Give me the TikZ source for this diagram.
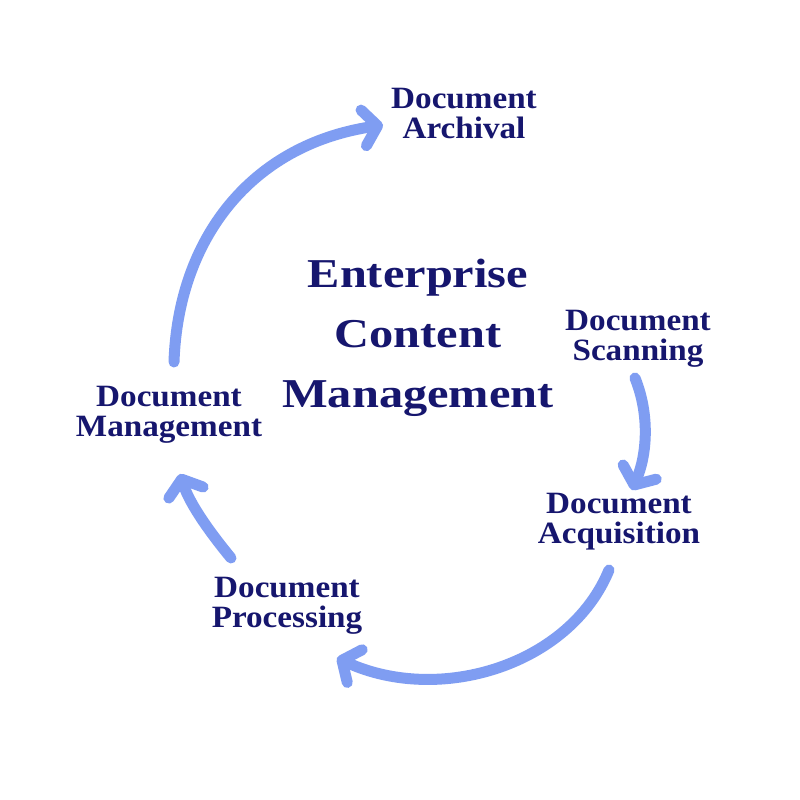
\documentclass[tikz,border=0pt]{standalone}
\usepackage{fontspec}
\setmainfont{Liberation Serif}
\newfontfamily\lblfont{Liberation Serif}[FakeStretch=1.07]
\newfontfamily\ttlfont{Liberation Serif}[FakeStretch=1.18]
\usetikzlibrary{arrows.meta}
\definecolor{navy}{RGB}{22,22,110}
\definecolor{arrowblue}{RGB}{127,157,242}
\begin{document}
\begin{tikzpicture}[x=1pt,y=-1pt,
  lbl/.style={text=navy,align=center,inner sep=0pt,anchor=base,font=\lblfont\bfseries\fontsize{31}{30}\selectfont},
  ttl/.style={text=navy,align=center,inner sep=0pt,anchor=base,font=\ttlfont\bfseries\fontsize{41}{60}\selectfont},
  flow/.style={draw=arrowblue,line width=11pt,line cap=round,-{Straight Barb[length=14pt,width=36pt,round]}}]
\path[use as bounding box,fill=white] (0,0) rectangle (800,800);
\node[ttl] (ecm) at (418,407) {Enterprise\\Content\\Management};
\node[lbl] (arch) at (464,138) {Document\\Archival};
\node[lbl] (scan) at (638,360) {Document\\Scanning};
\node[lbl] (acq) at (619,543) {Document\\Acquisition};
\node[lbl] (proc) at (287,627) {Document\\Processing};
\node[lbl] (mgmt) at (169,436) {Document\\Management};
\coordinate (a1s) at (174,362); \coordinate (a1e) at (383,125);
\coordinate (a2s) at (635,378); \coordinate (a2e) at (632,490);
\coordinate (a3s) at (609,570); \coordinate (a3e) at (337,658);
\coordinate (a4s) at (231,558); \coordinate (a4e) at (180,474);
\draw[flow] (a1s) .. controls (178,240) and (250,145) .. (a1e);
\draw[flow] (a2s) .. controls (650,415) and (647,455) .. (a2e);
\draw[flow] (a3s) .. controls (570,665) and (440,705) .. (a3e);
\draw[flow] (a4s) .. controls (212,535) and (190,505) .. (a4e);
\end{tikzpicture}
\end{document}
